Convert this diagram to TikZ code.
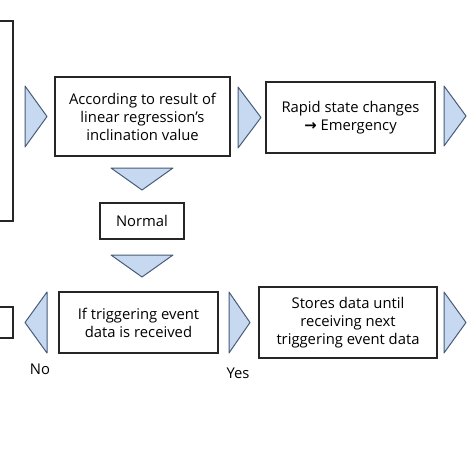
\documentclass[tikz,border=0pt]{standalone}
\usepackage{fontspec}
\setmainfont{Open Sans}
\newfontfamily\symfont{DejaVu Sans}
\usepackage{xcolor}
\usetikzlibrary{positioning}
\definecolor{triFill}{RGB}{198,217,240}
\definecolor{triLine}{RGB}{72,92,122}
\begin{document}
\begin{tikzpicture}[x=1pt,y=-1pt,
 box/.style={draw=black!85,line width=1.2pt,align=center,inner sep=2pt,font=\fontsize{14.8}{18}\selectfont},
 tri/.style={fill=triFill,draw=triLine,line width=1pt,line join=round},
 lbl/.style={font=\fontsize{14.8}{17}\selectfont}]
\useasboundingbox (0,0) rectangle (474,474);
\node[box,minimum width=30,minimum height=200] (prev) at (-2,121) {};
\node[box,minimum width=175,minimum height=79] (slope) at (142.5,116.5) {According to result of\\linear regression’s\\inclination value};
\node[box,minimum width=169,minimum height=71] (rapid) at (350.5,117.5) {Rapid state changes\\{\symfont\bfseries →} Emergency};
\node[box,minimum width=84,minimum height=36] (normal) at (142,221) {Normal};
\node[box,minimum width=159,minimum height=61] (trig) at (138.5,322.5) {If triggering event\\data is received};
\node[box,minimum width=178,minimum height=71] (store) at (348,322.5) {Stores data until\\receiving next\\triggering event data};
\node[box,minimum width=30,minimum height=31] (wait) at (-2,322.5) {};
% arrows between the boxes
\filldraw[tri] (25,86) -- (47,116.5) -- (25,147) -- cycle;
\filldraw[tri] (238,87) -- (261,117.5) -- (238,148) -- cycle;
\filldraw[tri] (444,86) -- (466,116) -- (444,146) -- cycle;
\filldraw[tri] (111,168) -- (173,168) -- (142,190) -- cycle;
\filldraw[tri] (111,255) -- (173,255) -- (142,277) -- cycle;
\filldraw[tri] (47,292) -- (25,322.5) -- (47,353) -- cycle;
\filldraw[tri] (229,292) -- (250,322.5) -- (229,353) -- cycle;
\filldraw[tri] (444,292) -- (466,322.5) -- (444,353) -- cycle;
\node[lbl] (no) at (40,369) {No};
\node[lbl] (yes) at (238,373) {Yes};
\end{tikzpicture}
\end{document}
